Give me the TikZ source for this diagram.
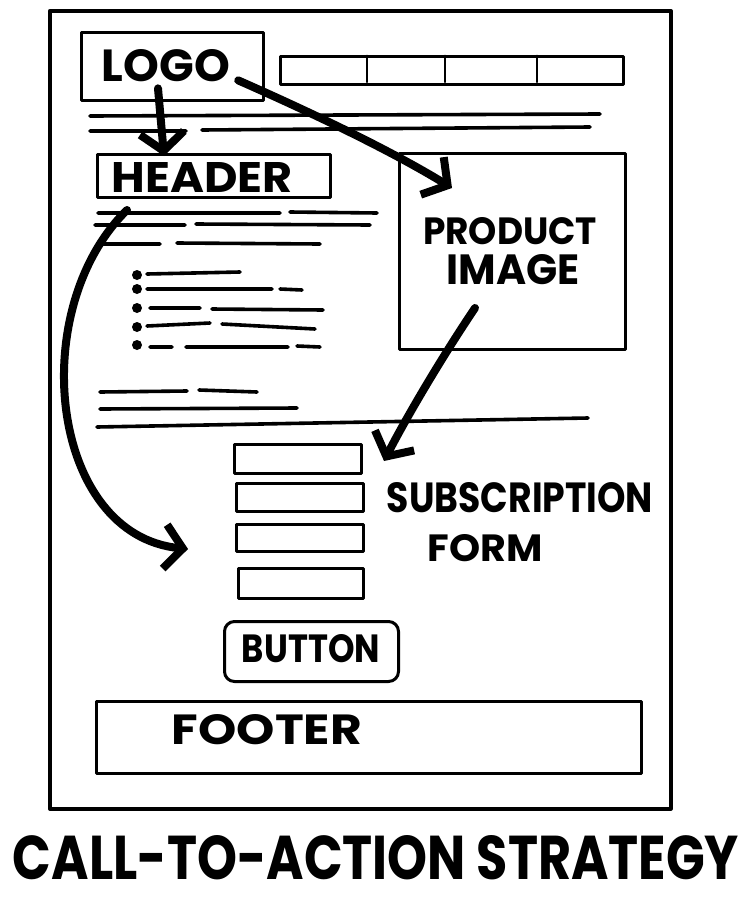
\documentclass[tikz,border=0pt]{standalone}
\usepackage{fontspec}
\setmainfont{Poppins}
\usepackage{graphicx}
\usetikzlibrary{arrows.meta}
\newcommand\hw[3]{\resizebox{#1pt}{#2pt}{\bfseries #3}}
\begin{document}
\begin{tikzpicture}[x=1pt,y=-1pt,line cap=round,line join=round,
  box/.style={draw,line width=3pt,inner sep=0pt,anchor=north west},
  lbl/.style={inner sep=0pt},
  tline/.style={line width=3.6pt},
  arr/.style={line width=8pt,-{Straight Barb[length=18pt,width=44pt,line width=8pt]}}]
\useasboundingbox (0,0) rectangle (753,900);
% page frame
\node[box,line width=3.6pt,minimum width=621pt,minimum height=798pt] (page) at (48,9) {};
% logo
\node[box,minimum width=182pt,minimum height=68pt] (logo) at (80,31) {};
\node[lbl] (logot) at (166,66) {\hw{128}{32}{LOGO}};
% nav
\node[box,minimum width=343pt,minimum height=28pt] (nav) at (279,55) {};
\draw[line width=2.8pt] (367,56) -- (367,82) (445,56) -- (445,82) (537,56) -- (537,82);
% lines under logo
\draw[tline] (90,116) -- (600,114);
\draw[tline] (90,131) -- (186,131) (202,130) -- (590,127);
% header
\node[box,minimum width=233pt,minimum height=43pt] (header) at (96,153) {};
\node[lbl] (headert) at (202,177) {\hw{181}{30}{HEADER}};
% text lines
\draw[tline] (98,213) -- (280,213) (290,212) -- (377,213)
             (95,225) -- (185,225) (196,224) -- (370,225)
             (103,244) -- (160,244) (177,243) -- (320,244);
% bullets
\foreach \y in {275,289,308,327,345} \fill (137,\y) circle (5pt);
\draw[tline] (147,274) -- (240,272)
             (147,289) -- (272,289) (280,289) -- (302,290)
             (150,308) -- (200,308) (212,309) -- (323,310)
             (147,326) -- (210,323) (222,324) -- (315,329)
             (150,347) -- (172,347) (186,347) -- (288,347) (297,346) -- (320,347);
% lower lines
\draw[tline] (100,392) -- (187,391) (199,390) -- (257,392)
             (100,409) -- (297,408)
             (97,427) -- (588,418);
% product
\node[box,minimum width=226pt,minimum height=196pt] (product) at (398,152) {};
\node[lbl] (productt) at (510,231) {\hw{174}{27}{PRODUCT}};
\node[lbl] (imaget) at (513,270) {\hw{133}{30}{IMAGE}};
% form
\node[box,minimum width=127pt,minimum height=29pt] (f1) at (233,443) {};
\node[box,minimum width=127pt,minimum height=28pt] (f2) at (235,482) {};
\node[box,minimum width=127pt,minimum height=27pt] (f3) at (235,523) {};
\node[box,minimum width=125pt,minimum height=30pt] (f4) at (237,567) {};
\node[lbl] (subt) at (520,498) {\hw{266}{30}{SUBSCRIPTION}};
\node[lbl] (formt) at (485,548) {\hw{115}{27}{FORM}};
% button
\node[box,rounded corners=10pt,minimum width=174pt,minimum height=60pt] (button) at (223,620) {};
\node[lbl] (buttont) at (311,649) {\hw{138}{28}{BUTTON}};
% footer
\node[box,minimum width=545pt,minimum height=72pt] (footer) at (95,700) {};
\node[lbl] (footert) at (267,730) {\hw{190}{30}{FOOTER}};
% title
\node[lbl] (title) at (376,858) {\hw{726}{44}{CALL-TO-ACTION STRATEGY}};
% arrows
\draw[arr] ([xshift=-8pt,yshift=-6pt]logot.south) -- ([xshift=68pt,yshift=-3pt]header.north west);
\draw[arr] ([xshift=8pt,yshift=2pt]logot.south east) .. controls (310,112) and (390,150) .. ([xshift=54pt,yshift=-36pt]product.north west);
\draw[arr] ([xshift=31pt,yshift=-11pt]header.south west) .. controls (25,310) and (50,535) .. ([xshift=-47pt,yshift=4pt]f3.south west);
\draw[arr] ([xshift=77pt,yshift=43pt]product.south west) .. controls (440,360) and (405,420) .. ([xshift=21pt,yshift=-18pt]f1.north east);
\end{tikzpicture}
\end{document}
